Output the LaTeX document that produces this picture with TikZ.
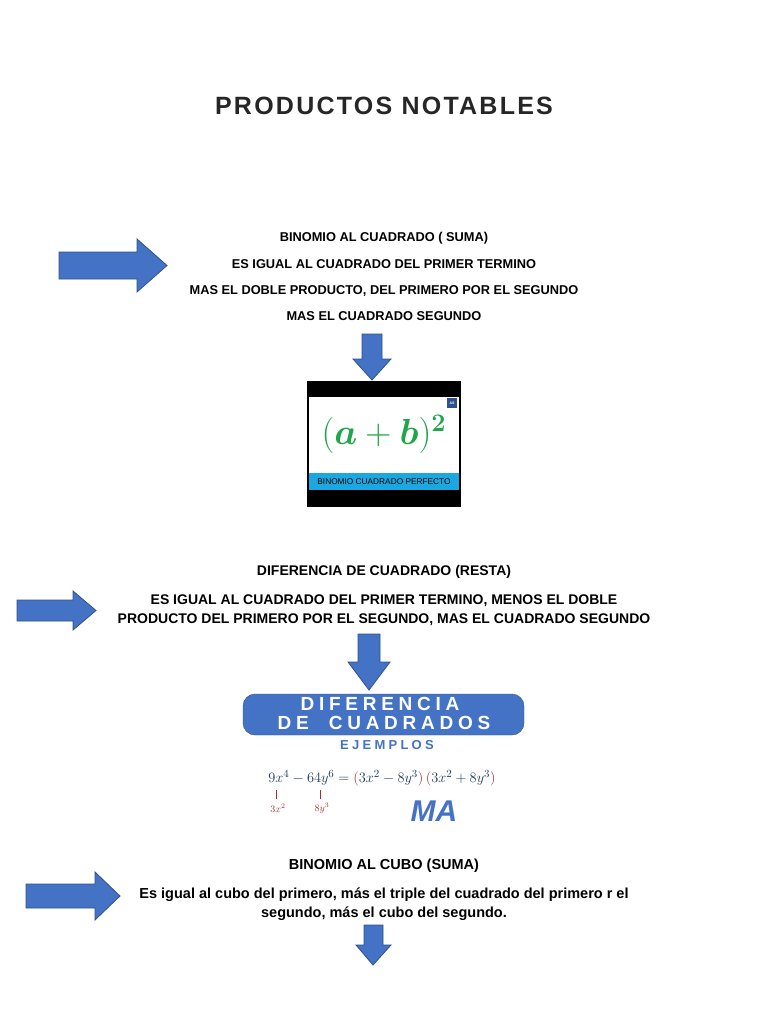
\documentclass[tikz,border=0pt]{standalone}
\usepackage{bm}
\usepackage{fontspec}
\setmainfont{Liberation Sans}
\newfontfamily\spaced[LetterSpace=25]{Liberation Sans}
\newfontfamily\titlefont[LetterSpace=9]{Liberation Sans}
\definecolor{ablue}{HTML}{4472C4}
\definecolor{aedge}{HTML}{2F528F}
\definecolor{fgreen}{HTML}{1FA64A}
\definecolor{cband}{HTML}{1BA8E0}
\definecolor{redh}{HTML}{A03030}
\begin{document}
\begin{tikzpicture}[x=1pt,y=-1pt,
  arr/.style={fill=ablue,draw=aedge,line width=0.8pt,line join=miter},
  banner/.style={white,font=\spaced\bfseries\fontsize{19}{20}\selectfont}]
\useasboundingbox (0,0) rectangle (768,1024);
\fill[white] (0,0) rectangle (768,1024);
\node[text=black!85] (title) at (384,106) {\titlefont\bfseries\fontsize{25}{30}\selectfont PRODUCTOS NOTABLES};
% section 1
\node[font=\bfseries\fontsize{12.8}{15}\selectfont] (h1) at (384,238) {BINOMIO AL CUADRADO ( SUMA)};
\node[font=\bfseries\fontsize{12.8}{26}\selectfont,align=center] (t1) at (384,290) {ES IGUAL AL CUADRADO DEL PRIMER TERMINO\\MAS EL DOBLE PRODUCTO, DEL PRIMERO POR EL SEGUNDO\\MAS EL CUADRADO SEGUNDO};
\draw[arr] (59,252)--(137,252)--(137,239)--(167,265.5)--(137,292)--(137,279)--(59,279)--cycle;
\draw[arr] (362,334)--(382,334)--(382,359)--(391,359)--(372,380)--(353,359)--(362,359)--cycle;
% image 1
\fill[black] (307,381) rectangle (461,507);
\fill[white] (309,397) rectangle (459,473);
\fill[cband] (309,473) rectangle (459,490);
\node[font=\fontsize{8.3}{9}\selectfont] (band) at (384,482) {BINOMIO CUADRADO PERFECTO};
\node[text=fgreen,font=\fontsize{20}{22}\selectfont] (f1) at (384,434) {\scalebox{1.75}{$(\bm{a}+\bm{b})^{\bm{2}}$}};
\fill[aedge] (447,398) rectangle (457,408);
\node[white,font=\fontsize{3.5}{4}\selectfont\bfseries] (as) at (452,403) {AS};
% section 2
\node[font=\bfseries\fontsize{14}{16}\selectfont] (h2) at (384,572) {DIFERENCIA DE CUADRADO (RESTA)};
\node[font=\bfseries\fontsize{14}{18.5}\selectfont,align=center] (t2) at (384,610) {ES IGUAL AL CUADRADO DEL PRIMER TERMINO, MENOS EL DOBLE\\PRODUCTO DEL PRIMERO POR EL SEGUNDO, MAS EL CUADRADO SEGUNDO};
\draw[arr] (17,600)--(73,600)--(73,591)--(96,610.5)--(73,630)--(73,621)--(17,621)--cycle;
\draw[arr] (358,634)--(380,634)--(380,662)--(390,662)--(369,690)--(348,662)--(358,662)--cycle;
\fill[ablue,draw=aedge,rounded corners=12pt] (243,694) rectangle (524,735);
\node[banner] (dd1) at (380,704) {DIFERENCIA};
\node[banner] (dd2) at (384,723) {DE\ \ CUADRADOS};
\node[text=ablue,font=\spaced\bfseries\fontsize{13}{14}\selectfont] (ej) at (387,745) {EJEMPLOS};
\node[text=aedge!70!black,font=\fontsize{15}{17}\selectfont] (eq) at (382,778) {$9x^4-64y^6=\textcolor{redh}{(}3x^2-8y^3\textcolor{redh}{)}\,\textcolor{redh}{(}3x^2+8y^3\textcolor{redh}{)}$};
\node[text=redh,font=\fontsize{10}{11}\selectfont] (s1) at (278,808) {$3x^2$};
\node[text=redh,font=\fontsize{10}{11}\selectfont] (s2) at (322,808) {$8y^3$};
\draw[redh] (276,790)--(276,799) (320,790)--(320,799);
\node[text=ablue,font=\bfseries\itshape\fontsize{30}{32}\selectfont] (ma) at (434,811) {MA};
% section 3
\node[font=\bfseries\fontsize{14.5}{16}\selectfont] (h3) at (384,866) {BINOMIO AL CUBO (SUMA)};
\node[font=\bfseries\fontsize{14.5}{18.5}\selectfont,align=center] (t3) at (384,904) {Es igual al cubo del primero, más el triple del cuadrado del primero r el\\segundo, más el cubo del segundo.};
\draw[arr] (26,884)--(95,884)--(95,872)--(120,896)--(95,920)--(95,908)--(26,908)--cycle;
\draw[arr] (364,925)--(383,925)--(383,945)--(391,945)--(373,965)--(356,945)--(364,945)--cycle;
\end{tikzpicture}
\end{document}
